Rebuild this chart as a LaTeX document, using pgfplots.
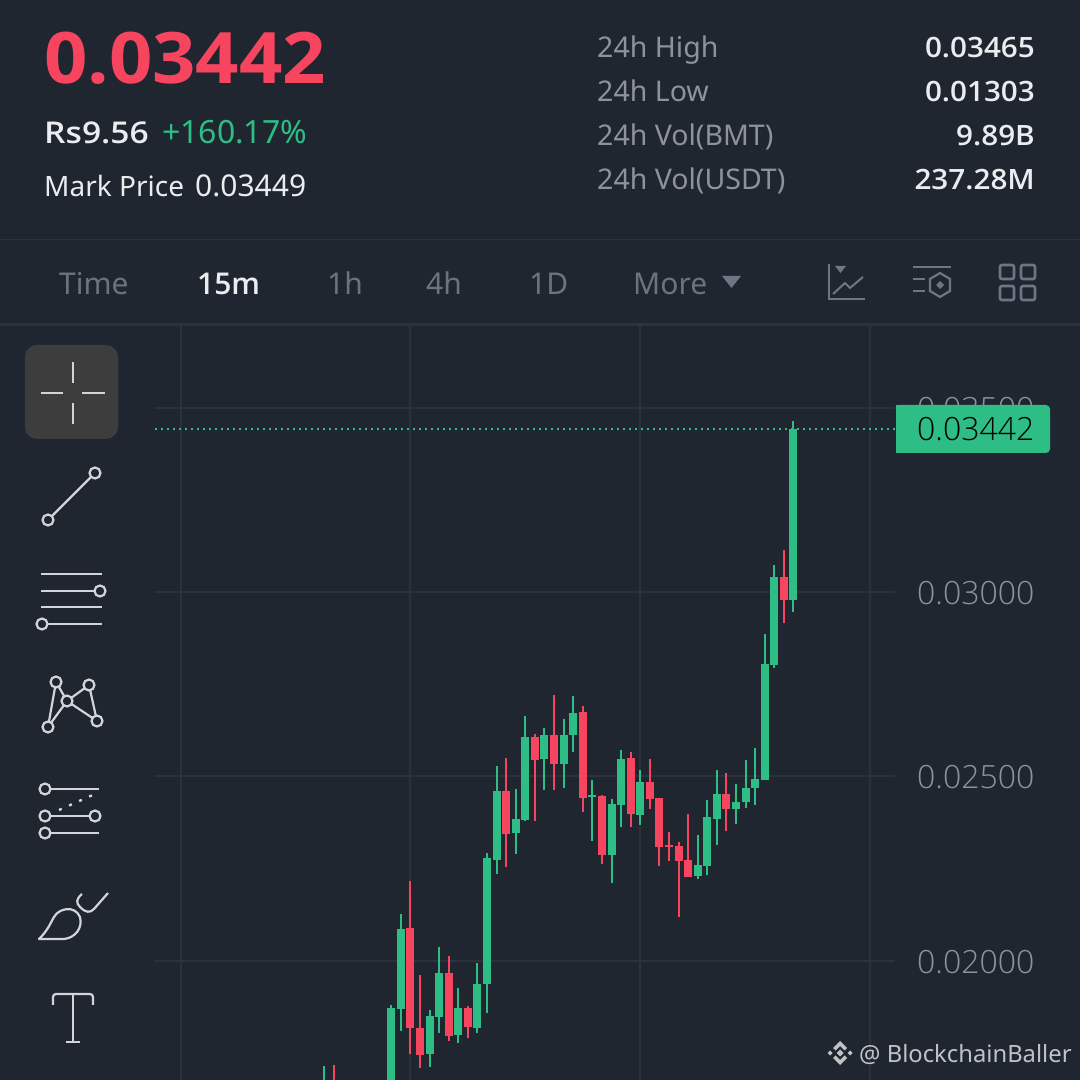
\documentclass[border=0pt]{standalone}
\usepackage{fontspec}
\usepackage{pgfplots}
\usepackage{pgfplotstable}
\pgfplotsset{compat=1.18}
\setmainfont{Noto Sans}[BoldFont={Open Sans Semibold}]
\newfontfamily\lightf{Open Sans Light}
\newfontfamily\heavyf{Open Sans Bold}
\definecolor{bg}{HTML}{1F2630}
\definecolor{gridc}{HTML}{2B323C}
\definecolor{upc}{HTML}{2EBD85}
\definecolor{downc}{HTML}{F8455F}
\definecolor{greyt}{HTML}{8E939B}
\definecolor{tabt}{HTML}{6C7380}
\definecolor{icon}{HTML}{6F7683}
\definecolor{tool}{HTML}{D2D4D7}
\definecolor{whitet}{HTML}{EAECEF}
\pgfplotstableread{
x open high low close
324 0.01647 0.01715 0.01634 0.01661
391 0.01566 0.01881 0.01539 0.01873
401 0.01870 0.02128 0.01810 0.02087
430 0.01748 0.01867 0.01713 0.01851
439 0.01848 0.02038 0.01805 0.01967
458 0.01799 0.01927 0.01778 0.01873
477 0.01818 0.01995 0.01805 0.01938
487 0.01938 0.02293 0.01859 0.02279
497 0.02274 0.02529 0.02236 0.02461
516 0.02347 0.02467 0.02290 0.02385
525 0.02382 0.02665 0.02380 0.02608
544 0.02548 0.02632 0.02464 0.02613
564 0.02534 0.02656 0.02469 0.02613
573 0.02613 0.02719 0.02567 0.02673
592 0.02445 0.02491 0.02326 0.02450
612 0.02288 0.02439 0.02212 0.02426
621 0.02423 0.02572 0.02364 0.02548
640 0.02396 0.02518 0.02369 0.02486
698 0.02231 0.02342 0.02222 0.02260
707 0.02258 0.02437 0.02233 0.02391
717 0.02385 0.02518 0.02315 0.02453
736 0.02412 0.02480 0.02372 0.02431
746 0.02431 0.02545 0.02415 0.02469
755 0.02469 0.02578 0.02423 0.02494
765 0.02491 0.02887 0.02491 0.02806
774 0.02803 0.03074 0.02795 0.03042
793 0.02979 0.03465 0.02947 0.03442
}\greentable
\pgfplotstableread{
x open high low close
334 0.01661 0.01718 0.01620 0.01647
410 0.02090 0.02217 0.01748 0.01818
420 0.01818 0.01962 0.01710 0.01745
449 0.01967 0.02014 0.01783 0.01797
468 0.01873 0.01878 0.01791 0.01821
506 0.02461 0.02551 0.02255 0.02344
535 0.02608 0.02616 0.02380 0.02545
554 0.02613 0.02722 0.02464 0.02534
583 0.02675 0.02692 0.02404 0.02442
602 0.02448 0.02450 0.02263 0.02288
631 0.02551 0.02567 0.02364 0.02399
650 0.02486 0.02548 0.02412 0.02439
659 0.02442 0.02442 0.02258 0.02309
669 0.02315 0.02350 0.02271 0.02309
679 0.02312 0.02323 0.02119 0.02271
688 0.02274 0.02399 0.02228 0.02228
726 0.02453 0.02510 0.02353 0.02412
784 0.03042 0.03115 0.02917 0.02979
}\redtable
\newcommand{\candles}[2]{%
 \addplot[draw=none, mark=none, forget plot,
   error bars/.cd, y dir=plus, y explicit, error mark=none,
   error bar style={line width=2pt, #2}]
   table[x=x, y=low, y error expr=\thisrow{high}-\thisrow{low}] {#1};
 \addplot[draw=none, mark=none, forget plot,
   error bars/.cd, y dir=plus, y explicit, error mark=none,
   error bar style={line width=8pt, #2}]
   table[x=x, y=bodylow, y error expr=abs(\thisrow{close}-\thisrow{open})] {#1};
}
\pgfplotstablecreatecol[create col/expr={min(\thisrow{open},\thisrow{close})}]{bodylow}{\greentable}
\pgfplotstablecreatecol[create col/expr={min(\thisrow{open},\thisrow{close})}]{bodylow}{\redtable}
\begin{document}
\begin{tikzpicture}
\useasboundingbox (0,0) rectangle (1080pt,1080pt);
\begin{axis}[
  at={(0,0)}, anchor=south west,
  scale only axis, width=1080pt, height=1080pt,
  xmin=0, xmax=1080, ymin=0.016765, ymax=0.04606,
  axis background/.style={fill=bg},
  axis line style={draw=none},
  major tick style={draw=none}, minor tick style={draw=none},
  xtick=\empty,
  ytick={0.02,0.025,0.03,0.035},
  yticklabel pos=right,
  scaled y ticks=false,
  yticklabel style={
    /pgf/number format/fixed, /pgf/number format/fixed zerofill,
    /pgf/number format/precision=5, /pgf/number format/assume math mode=true,
    font=\lightf\fontsize{32}{32}\selectfont, text=greyt,
    anchor=west, xshift=-163pt, yshift=-1pt, inner sep=0pt},
]
% grid
\addplot[gridc, line width=2pt, forget plot] coordinates {(155,0.02)(895,0.02)};
\addplot[gridc, line width=2pt, forget plot] coordinates {(155,0.025)(895,0.025)};
\addplot[gridc, line width=2pt, forget plot] coordinates {(155,0.03)(895,0.03)};
\addplot[gridc, line width=2pt, forget plot] coordinates {(155,0.035)(895,0.035)};
\addplot[gridc, line width=2pt, forget plot] coordinates {(181,0.0167)(181,0.03722)};
\addplot[gridc, line width=2pt, forget plot] coordinates {(410,0.0167)(410,0.03722)};
\addplot[gridc, line width=2pt, forget plot] coordinates {(640,0.0167)(640,0.03722)};
\addplot[gridc, line width=2pt, forget plot] coordinates {(870,0.0167)(870,0.03722)};
% last price
\addplot[upc, line width=2pt, dash pattern=on 2pt off 4pt, forget plot] coordinates {(155,0.03442)(896,0.03442)};
\candles{\greentable}{upc}
\candles{\redtable}{downc}
\end{axis}
\begin{scope}[x=1pt,y=-1pt,shift={(0,1080pt)}]
\tikzset{t/.style={inner sep=0pt, anchor=base west}, r/.style={inner sep=0pt, anchor=base east}}
% dividers
\draw[gridc, line width=1.5pt] (0,239.5)--(1080,239.5);
\draw[gridc, line width=3pt] (0,324.5)--(1080,324.5);
% header
\node[t, text=downc] at (44,84) {\scalebox{1.07}[1]{\heavyf\fontsize{71}{71}\selectfont 0.03442}};
\node[t, text=whitet] at (44,144) {\scalebox{1.12}[1]{\fontsize{30}{30}\selectfont\bfseries Rs9.56}};
\node[t, text=upc] at (162,144) {\fontsize{32}{32}\selectfont +160.17\%};
\node[t, text=whitet] at (44,197) {\fontsize{28}{28}\selectfont Mark Price};
\node[t, text=whitet] at (195,197) {\fontsize{30}{30}\selectfont 0.03449};
\foreach \yy/\aa/\bb in {58/24h High/0.03465, 102/24h Low/0.01303, 146/24h Vol(BMT)/9.89B, 190/24h Vol(USDT)/237.28M}{
  \node[t, text=greyt] at (597,\yy) {\fontsize{28.5}{28.5}\selectfont \aa};
  \node[r, text=whitet] at (1035,\yy) {\scalebox{1.06}[1]{\fontsize{28}{28}\selectfont\bfseries \bb}};
}
% tabs
\foreach \xx/\aa in {59/Time, 327/1h, 426/4h, 529/1D, 633/More}{
  \node[t, text=tabt] at (\xx,295) {\fontsize{30}{30}\selectfont \aa};
}
\node[t, text=whitet] at (197,295) {\fontsize{30}{30}\selectfont\bfseries 15m};
\fill[icon] (722,276)--(741,276)--(731.5,288)--cycle;
% top right icons
\begin{scope}[icon, line width=2.6pt]
\draw (829,264)--(829,299)--(865,299);
\fill (835,266)--(846,266)--(840.5,273)--cycle;
\draw[line width=2pt] (833,294)--(845,283)--(850,288)--(863,277);
\draw (913,267)--(951,267); \draw (913,279)--(925,279); \draw (913,291)--(925,291);
\draw[line width=2.2pt] (940,273)--(950,279)--(950,291)--(940,297)--(930,291)--(930,279)--cycle;
\fill (940,281)--(944,285)--(940,289)--(936,285)--cycle;
\foreach \xa in {1000,1021} \foreach \ya in {265,286}
  \draw[rounded corners=2pt] (\xa,\ya) rectangle ++(14,14);
\end{scope}
% tool panel
\fill[color={rgb,255:red,61;green,61;blue,61}, rounded corners=12pt] (25,345) rectangle (118,439);
\begin{scope}[tool, line width=2.2pt]
\draw (73,362)--(73,383); \draw (73,403)--(73,424); \draw (41,393)--(63,393); \draw (82,393)--(105,393);
\draw (52,516)--(91,477);
\draw (48,520) circle (5.5); \draw (95,473) circle (5.5);
\draw (41,574)--(102,574); \draw (41,591)--(95,591); \draw (100,591) circle (5.5);
\draw (41,607)--(102,607); \draw (48,624)--(102,624); \draw (42,624) circle (5.5);
\draw (56,682)--(48,727) (56,682)--(67,701)--(89,685)--(97,721) (67,701)--(97,721) (67,701)--(48,727);
\foreach \cx/\cy in {56/682,89/685,67/701,97/721,48/727}{\filldraw[fill=bg] (\cx,\cy) circle (5.5);}
\draw (51,789)--(99,789); \draw (45,789) circle (5.5);
\draw[dash pattern=on 3pt off 8pt, line width=2.4pt] (59,810)--(95,794);
\draw (51,816)--(89,816); \draw (45,816) circle (5.5); \draw (95,816) circle (5.5);
\draw (51,833)--(99,833); \draw (45,833) circle (5.5);
\draw[line join=round] (39,939) .. controls (48,930) and (50,924) .. (54,917) .. controls (59,908) and (75,905) .. (80,917) .. controls (83,928) and (75,938) .. (64,939) -- cycle;
\draw (82,894) .. controls (76,899) and (76,903) .. (80,907) .. controls (86,913) and (90,913) .. (94,909) -- (108,893);
\draw[rounded corners=3pt] (53,1005)--(53,994)--(93,994)--(93,1005);
\draw (73,994)--(73,1042); \draw (66,1042)--(80,1042);
\end{scope}
% price tag
\fill[upc, rounded corners=4pt] (896,405) rectangle (1050,453);
\fill[upc] (896,405) rectangle (906,453);
\node[inner sep=0pt, anchor=base west, text=black] at (917,441) {\lightf\fontsize{32}{32}\selectfont 0.03442};
% watermark
\begin{scope}[color=tool!90!bg]
\fill (840,1041)--(847,1048)--(844.5,1050.5)--(840,1046)--(835.5,1050.5)--(833,1048)--cycle;
\fill (840,1065)--(847,1058)--(844.5,1055.5)--(840,1060)--(835.5,1055.5)--(833,1058)--cycle;
\fill (840,1049.5)--(843.5,1053)--(840,1056.5)--(836.5,1053)--cycle;
\fill (830,1050.5)--(832.5,1053)--(830,1055.5)--(827.5,1053)--cycle;
\fill (850,1050.5)--(852.5,1053)--(850,1055.5)--(847.5,1053)--cycle;
\end{scope}
\node[t, text=tool!90!bg] at (859,1063) {\fontsize{23.8}{24}\selectfont @ BlockchainBaller};
\end{scope}
\end{tikzpicture}
\end{document}
